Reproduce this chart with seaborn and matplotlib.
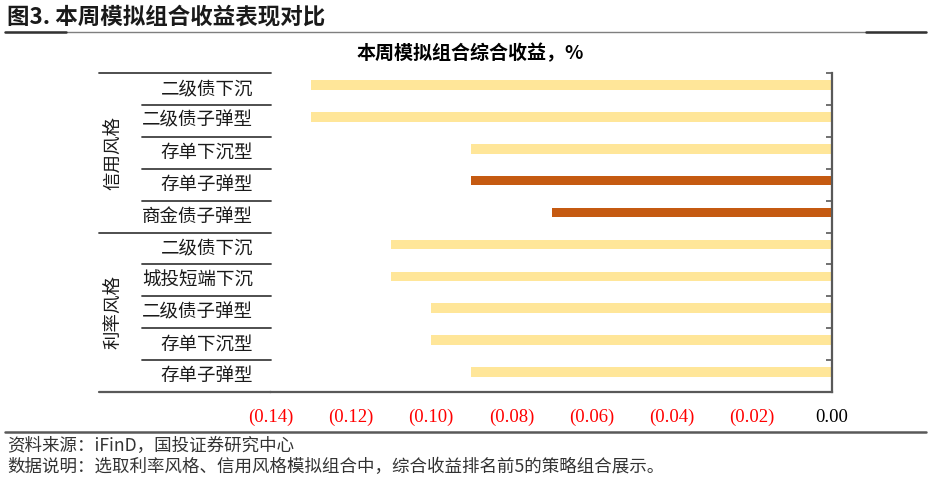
import numpy as np
import pandas as pd
import matplotlib
matplotlib.use("Agg")
import matplotlib.pyplot as plt
import seaborn as sns
from matplotlib.lines import Line2D

# data
groups = ['信用风格'] * 5 + ['利率风格'] * 5
strategies = ['二级债下沉', '二级债子弹型', '存单下沉型', '存单子弹型', '商金债子弹型',
              '二级债下沉', '城投短端下沉', '二级债子弹型', '存单下沉型', '存单子弹型']
returns = [-0.13, -0.13, -0.09, -0.09, -0.07,
           -0.11, -0.11, -0.10, -0.10, -0.09]
highlight = ['普通', '普通', '普通', '突出', '突出',
             '普通', '普通', '普通', '普通', '普通']
x_ticks = [-0.14, -0.12, -0.10, -0.08, -0.06, -0.04, -0.02, 0.00]

W, H = 931, 478
CJK = ['Noto Sans CJK SC', 'DejaVu Sans']

sns.set_theme(style='white')
plt.rcParams['font.family'] = CJK
plt.rcParams['axes.unicode_minus'] = False

df = pd.DataFrame({
    'key': [f'{g}|{s}|{i}' for i, (g, s) in enumerate(zip(groups, strategies))],
    'value': returns,
    'kind': highlight,
})

fig = plt.figure(figsize=(W / 100, H / 100), dpi=100)

def fx(px):
    return px / W

def fy(py):
    return 1 - py / H

ax_l, ax_r, ax_t, ax_b = 271, 832, 73, 392
ax = fig.add_axes([fx(ax_l), fy(ax_b), fx(ax_r) - fx(ax_l), fy(ax_t) - fy(ax_b)])

sns.barplot(data=df, x='value', y='key', hue='kind', orient='h',
            palette={'普通': '#FFE699', '突出': '#C55A11'},
            dodge=False, width=0.3, legend=False, ax=ax, saturation=1,
            linewidth=0)

n = len(strategies)
shift = 0.125
ax.set_ylim(n - 0.5 + shift, -0.5 + shift)
ax.set_xlim(-0.14, 0.0)

# spines
for s in ['left', 'top']:
    ax.spines[s].set_visible(False)
for s in ['right', 'bottom']:
    ax.spines[s].set_color('#595959')
    ax.spines[s].set_linewidth(1.6)

ax.yaxis.set_ticks_position('right')
bounds = np.arange(n + 1) - 0.5 + shift
ax.set_yticks(bounds)
ax.set_yticklabels([])
ax.tick_params(axis='y', direction='in', length=4, width=1.2, color='#595959')
ax.set_ylabel('')
ax.set_xlabel('')

ax.set_xticks(x_ticks)
labels = ['0.00' if v == 0 else f'({abs(v):.2f})' for v in x_ticks]
ax.set_xticklabels(labels)
ax.tick_params(axis='x', direction='in', length=5, width=1.0, color='#595959',
               pad=12, labelsize=13.5)
for lab, v in zip(ax.get_xticklabels(), x_ticks):
    lab.set_fontfamily(['Liberation Serif', 'DejaVu Serif'])
    lab.set_fontsize(13.5)
    lab.set_color('black' if v == 0 else '#FF0000')
ax.grid(False)

# category table on the left
def axx(px):
    return (px - ax_l) / (ax_r - ax_l)

def axy(py):
    return 1 - (py - ax_t) / (ax_b - ax_t)

line_kw = dict(color='#404040', lw=1.3, transform=ax.transAxes, clip_on=False)
row_h = (ax_b - ax_t) / n
for k in range(n + 1):
    y_px = ax_t + k * row_h
    if k in (0, 5):
        ax.plot([axx(99), 0], [axy(y_px)] * 2, **line_kw)
    elif k == n:
        ax.plot([axx(99), 0], [axy(y_px)] * 2, color='#595959', lw=1.6,
                transform=ax.transAxes, clip_on=False)
    else:
        ax.plot([axx(142), 0], [axy(y_px)] * 2, **line_kw)

for i, s in enumerate(strategies):
    y_px = ax_t + (i + 0.5) * row_h
    ax.text(axx(253), axy(y_px), s, transform=ax.transAxes, ha='right', va='center',
            fontsize=13.3, color='#1a1a1a')

for g, i0 in [('信用风格', 0), ('利率风格', 5)]:
    y_px = ax_t + (i0 + 2.5) * row_h
    ax.text(axx(114), axy(y_px), g, transform=ax.transAxes, ha='center', va='center',
            rotation=90, fontsize=13.3, color='#1a1a1a')

# chart title
fig.text(fx(470), fy(54), '本周模拟组合综合收益，%', ha='center', va='center',
         fontsize=13.7, fontweight='bold', color='black')

# figure heading and rules
fig.text(fx(7), fy(17), '图3. 本周模拟组合收益表现对比', ha='left', va='center',
         fontsize=16.2, fontweight='bold', color='#1a1a1a')
fig.add_artist(Line2D([fx(5), fx(926)], [fy(32), fy(32)], color='#7f7f7f', lw=1.0))
fig.add_artist(Line2D([fx(5), fx(66)], [fy(32), fy(32)], color='#333333', lw=1.8))
fig.add_artist(Line2D([fx(866), fx(926)], [fy(32), fy(32)], color='#333333', lw=1.8))
fig.add_artist(Line2D([fx(5), fx(926)], [fy(432), fy(432)], color='#595959', lw=1.8))

fig.text(fx(7), fy(446), '资料来源：iFinD，国投证券研究中心', ha='left', va='center',
         fontsize=12.6, color='#333333')
fig.text(fx(7), fy(467), '数据说明：选取利率风格、信用风格模拟组合中，综合收益排名前5的策略组合展示。',
         ha='left', va='center', fontsize=12.6, color='#333333')

fig.savefig('out.png', dpi=100)
